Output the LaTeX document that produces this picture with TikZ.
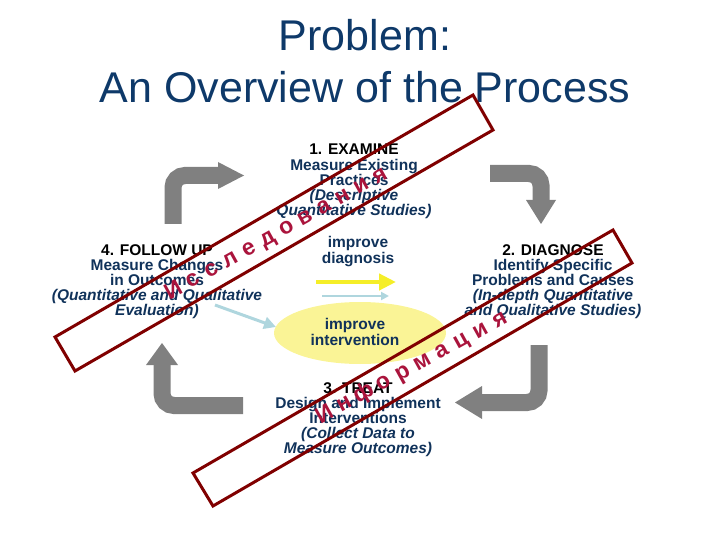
\documentclass[tikz,border=0pt]{standalone}
\usepackage{fontspec}
\setmainfont{Liberation Sans}
\usetikzlibrary{arrows.meta,shapes.geometric}
\definecolor{titleblue}{RGB}{14,57,105}
\definecolor{navy}{RGB}{16,50,90}
\definecolor{arrowgray}{RGB}{128,128,128}
\definecolor{stampbox}{RGB}{128,0,0}
\definecolor{stampletter}{RGB}{170,20,60}
\definecolor{palelemon}{RGB}{250,244,150}
\definecolor{brightyellow}{RGB}{245,238,40}
\definecolor{paleblue}{RGB}{175,214,222}
\tikzset{
  titletext/.style={anchor=base, inner sep=0, text=titleblue, font=\fontsize{43}{43}\selectfont},
  stepblock/.style={anchor=north, inner sep=0, align=center, text=navy, font=\fontsize{15.5}{15.2}\selectfont\bfseries},
  midtext/.style={anchor=north, inner sep=0, align=center, text=navy, font=\fontsize{15.5}{16.5}\selectfont\bfseries},
  bigarrow/.style={draw=arrowgray, line width=17pt, rounded corners=12pt},
  arrowhead/.style={fill=arrowgray, draw=none},
  stampframe/.style={draw=stampbox, line width=3pt, line join=miter},
  stampchar/.style={anchor=base, inner sep=0, text=stampletter, rotate=29, font=\fontsize{23}{23}\selectfont\bfseries}
}
\begin{document}
\begin{tikzpicture}[x=1pt,y=-1pt]
\useasboundingbox (0,0) rectangle (720,540);

% title
\node[titletext] (title2) at (365,51) {Problem:};
\node[titletext] (title3) at (365,103) {An Overview of the Process};

% ellipse
\node[ellipse, fill=palelemon, minimum width=172pt, minimum height=62pt, inner sep=0] (ell) at (360,333) {};

% gray cycle arrows
\coordinate (tlA) at (173,224); \coordinate (tlB) at (173,175.5); \coordinate (tlC) at (219,175.5);
\draw[bigarrow] (tlA) -- (tlB) -- (tlC);
\fill[arrowhead] (218,162) -- (244,175.5) -- (218,189) -- cycle;

\coordinate (trA) at (490,173.5); \coordinate (trB) at (541,173.5); \coordinate (trC) at (541,201);
\draw[bigarrow] (trA) -- (trB) -- (trC);
\fill[arrowhead] (526,200) -- (541,224) -- (556,200) -- cycle;

\coordinate (brA) at (539,345); \coordinate (brB) at (539,402.5); \coordinate (brC) at (481,402.5);
\draw[bigarrow] (brA) -- (brB) -- (brC);
\fill[arrowhead] (482,386) -- (455,402.5) -- (482,419) -- cycle;

\coordinate (blA) at (243,405.5); \coordinate (blB) at (162,405.5); \coordinate (blC) at (162,364);
\draw[bigarrow] (blA) -- (blB) -- (blC);
\fill[arrowhead] (146,365) -- (162,343) -- (178,365) -- cycle;

% step texts
\node[stepblock] (examine) at (354,144) {\textcolor{black}{1. EXAMINE}\\Measure Existing\\Practices\\\textit{(Descriptive}\\\textit{Quantitative Studies)}};
\node[stepblock] (diagnose) at (553,244) {\textcolor{black}{2. DIAGNOSE}\\Identify Specific\\Problems and Causes\\\textit{(In-depth Quantitative}\\\textit{and Qualitative Studies)}};
\node[stepblock] (treat) at (358,382) {\textcolor{black}{3. TREAT}\\Design and Implement\\Interventions\\\textit{(Collect Data to}\\\textit{Measure Outcomes)}};
\node[stepblock] (follow) at (157,244) {\textcolor{black}{4. FOLLOW UP}\\Measure Changes\\in Outcomes\\\textit{(Quantitative and Qualitative}\\\textit{Evaluation)}};

\node[midtext] (impdiag) at (358,236) {improve\\diagnosis};
\node[midtext] (impint) at (355,318) {improve\\intervention};

% inner arrows
\coordinate (yA) at (316,282); \coordinate (yB) at (396,282);
\draw[brightyellow, line width=4.5pt, -{Triangle[length=17pt,width=16pt]}] (yA) -- (yB);
\coordinate (bA) at (322,296); \coordinate (bB) at (389,296);
\draw[paleblue, line width=2.5pt, -{Triangle[length=8pt,width=8pt]}] (bA) -- (bB);
\coordinate (cA) at (215,305); \coordinate (cB) at (276,327);
\draw[paleblue, line width=3pt, -{Triangle[length=12pt,width=12pt]}] (cA) -- (cB);

% stamp 1
\draw[stampframe] (473,95) -- (493,130) -- (75,371) -- (55,337) -- cycle;
\foreach \ch/\px/\py [count=\i] in {И/174/291, с/192.7/280.5, с/211.5/270.1, л/230.2/259.6, е/248.9/249.2, д/267.6/238.7, о/286.4/228.3, в/305.1/217.8, а/323.8/207.4, н/342.6/196.9, и/361.3/186.5, я/380/176}
  \node[stampchar] (sa\i) at ({\px+2.8},{\py+5}) {\ch};

% stamp 2
\draw[stampframe] (613,230) -- (632,263) -- (213,506) -- (193,473) -- cycle;
\foreach \ch/\px/\py [count=\i] in {И/325/415, н/344.4/404.4, ф/363.9/393.9, о/383.3/383.3, р/402.8/372.8, м/422.2/362.2, а/441.7/351.7, ц/461.1/341.1, и/480.6/330.6, я/500/320}
  \node[stampchar] (sb\i) at ({\px+2.8},{\py+5}) {\ch};
\end{tikzpicture}
\end{document}
